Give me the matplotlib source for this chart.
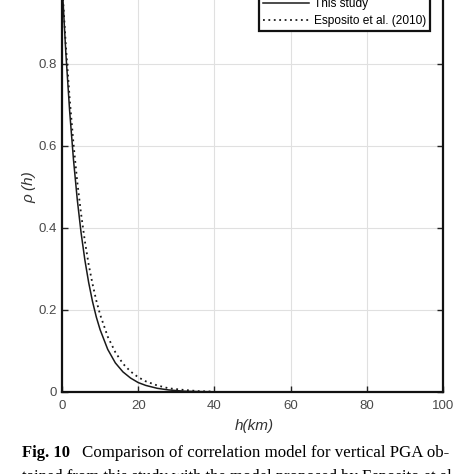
import matplotlib.pyplot as plt
import numpy as np

##### Separation distance h (km)
h = [0, 1, 2, 3, 4, 5, 6, 7, 8, 9, 10, 12, 14, 16, 18, 20, 22, 25, 28, 32, 36, 40]
##### Correlation, this study
rho_this = [1.0, 0.828, 0.686, 0.568, 0.470, 0.389, 0.322, 0.267, 0.221, 0.183,
            0.152, 0.104, 0.071, 0.049, 0.034, 0.023, 0.016, 0.009, 0.005, 0.002,
            0.001, 0.0005]
##### Correlation, Esposito et al. (2010)
rho_esp = [1.0, 0.846, 0.717, 0.607, 0.513, 0.435, 0.368, 0.311, 0.264, 0.223,
           0.189, 0.135, 0.097, 0.069, 0.050, 0.036, 0.026, 0.016, 0.009, 0.005,
           0.002, 0.001]

xticks = [0, 20, 40, 60, 80, 100]
yticks = [0, 0.2, 0.4, 0.6, 0.8, 1.0]

plt.rcParams['font.family'] = ['Liberation Sans', 'DejaVu Sans']

fig = plt.figure(figsize=(4.74, 4.74), dpi=100)
ax = fig.add_axes([0.1308, 0.1730, 0.8038, 0.865])

ax.plot(h, rho_this, color='#1a1a1a', lw=1.1, label='This study')
ax.plot(h, rho_esp, color='#1a1a1a', lw=1.3, linestyle=(0, (1, 2)),
        label='Esposito et al. (2010)')

ax.set_xlim(0, 100)
ax.set_ylim(0, 1)
ax.set_xticks(xticks)
ax.set_yticks(yticks)
ax.set_xticklabels([str(t) for t in xticks])
ax.set_yticklabels(['0', '0.2', '0.4', '0.6', '0.8', '1'])
ax.grid(True, color='#e0e0e0', lw=0.8)
ax.tick_params(direction='in', length=4, width=1, top=True, right=True,
               labelsize=9.5, labelcolor='#4a4a4a', color='#222222')
ax.tick_params(axis='x', pad=6)
ax.tick_params(axis='y', pad=4)
for s in ax.spines.values():
    s.set_linewidth(1.6)
    s.set_color('#111111')

ax.set_xlabel('h(km)', style='italic', fontsize=11, color='#333333')
ax.set_ylabel('ρ (h)', style='italic', fontsize=11, color='#333333')
ax.xaxis.set_label_coords(0.504, -0.066)
ax.yaxis.set_label_coords(-0.066, 0.5)

leg = ax.legend(loc='lower right', bbox_to_anchor=(430 / 474, 1 - 31 / 474),
                bbox_transform=fig.transFigure, borderaxespad=0, fontsize=8.6,
                fancybox=False, framealpha=1, edgecolor='#111111',
                handlelength=3.9, handletextpad=0.4, labelspacing=0.45,
                borderpad=0.3)
leg.get_frame().set_linewidth(1.6)

##### Caption
fig.text(22 / 474, 17 / 474, 'Fig. 10', family='Liberation Serif',
         fontweight='bold', fontsize=12, va='baseline')
fig.text(82 / 474, 17 / 474,
         'Comparison of correlation model for vertical PGA ob-',
         family='Liberation Serif', fontsize=12.2, va='baseline')
fig.text(22 / 474, -7 / 474,
         'tained from this study with the model proposed by Esposito et al.',
         family='Liberation Serif', fontsize=12, va='baseline')

fig.savefig('out.png', dpi=100)
